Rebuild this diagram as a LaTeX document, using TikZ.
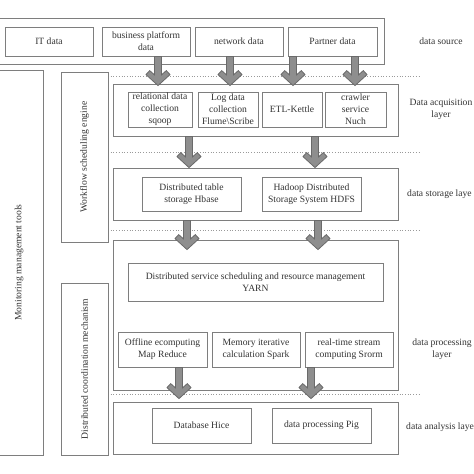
\documentclass[tikz,border=0pt]{standalone}
\usepackage{fontspec}
\setmainfont{Liberation Serif}
\usetikzlibrary{calc}
\definecolor{linegray}{HTML}{7E7E7E}
\definecolor{textgray}{HTML}{333333}
\definecolor{arrowfill}{HTML}{8E8E8E}
\definecolor{arrowdraw}{HTML}{6A6A6A}
\definecolor{dotgray}{HTML}{9A9A9A}
\tikzset{
  box/.style={draw=linegray, line width=0.8pt, inner sep=1pt, align=center,
    text=textgray, font=\fontsize{9.6}{12}\selectfont},
  lbl/.style={text=textgray, align=center, inner sep=0pt, font=\fontsize{9.6}{12}\selectfont},
  sepline/.style={draw=dotgray, dotted, line width=0.7pt},
  blockarrow/.style={fill=arrowfill, draw=arrowdraw, line width=0.8pt, line join=miter}
}
\newcommand\bigarrow[3]{%
  \path[blockarrow] let \p1=(#2), \p2=(#3) in
    (#1pt-3.5pt,\y1) -- (#1pt-3.5pt,\y2+10.7pt) -- (#1pt-8.3pt,\y2+15pt) --
    (#1pt-12pt,\y2+11pt) -- (#1pt,\y2) -- (#1pt+12pt,\y2+11pt) --
    (#1pt+8.3pt,\y2+15pt) -- (#1pt+3.5pt,\y2+10.7pt) -- (#1pt+3.5pt,\y1) -- cycle;}
\begin{document}
\begin{tikzpicture}[x=1pt,y=-1pt]
\useasboundingbox (0,0) rectangle (474,474);
\fill[white] (0,0) rectangle (474,474);

% separators
\draw[sepline] (108,76) -- (419,76);
\draw[sepline] (108,152) -- (419,152);
\draw[sepline] (108,230) -- (419,230);
\draw[sepline] (108,394) -- (419,394);

% data source
\node[box, minimum width=389, minimum height=46] (src) at (189.5,41) {};
\node[box, minimum width=88, minimum height=29] (it) at (49,41.5) {IT data};
\node[box, minimum width=88, minimum height=29] (bp) at (146,41.5) {business platform\\data};
\node[box, minimum width=88, minimum height=29] (nd) at (239,41.5) {network data};
\node[box, minimum width=89, minimum height=29] (pd) at (332.5,41.5) {Partner data};
\node[lbl] (lsrc) at (441,41) {data source};

% side boxes
\node[box, rotate=90, minimum width=385, minimum height=48] (mon) at (19,262.5) {Monitoring management tools};
\node[box, rotate=90, minimum width=170, minimum height=47] (wf) at (84.5,157) {Workflow scheduling engine};
\node[box, rotate=90, minimum width=172, minimum height=47] (dc) at (84.5,369) {Distributed coordination mechanism};

% acquisition
\node[box, minimum width=285, minimum height=52] (acq) at (255.5,110) {};
\node[box, minimum width=64, minimum height=35] (sq) at (160,109.5) {relational data\\collection\\sqoop};
\node[box, minimum width=60, minimum height=35] (lg) at (228,109.5) {Log data\\collection\\Flume\textbackslash Scribe};
\node[box, minimum width=60, minimum height=35] (etl) at (292,109.5) {ETL-Kettle};
\node[box, minimum width=61, minimum height=35] (cr) at (355.5,109.5) {crawler\\service\\Nuch};
\node[lbl] (lacq) at (441,109) {Data acquisition\\layer};

% storage
\node[box, minimum width=285, minimum height=52] (sto) at (255.5,194) {};
\node[box, minimum width=99, minimum height=34] (hb) at (191.5,194) {Distributed table\\storage Hbase};
\node[box, minimum width=99, minimum height=34] (hd) at (311.5,194) {Hadoop Distributed\\Storage System HDFS};
\node[lbl, anchor=west] (lsto) at (407,194) {data storage laye};

% processing
\node[box, minimum width=285, minimum height=150] (proc) at (255.5,315) {};
\node[box, minimum width=255, minimum height=38] (yarn) at (255.5,282) {Distributed service scheduling and resource management\\YARN};
\node[box, minimum width=89, minimum height=35] (mr) at (162.5,349.5) {Offline ecomputing\\Map Reduce};
\node[box, minimum width=88, minimum height=35] (sp) at (256,349.5) {Memory iterative\\calculation Spark};
\node[box, minimum width=88, minimum height=35] (st) at (349,349.5) {real-time stream\\computing Srorm};
\node[lbl] (lproc) at (442,349) {data processing\\layer};

% analysis
\node[box, minimum width=285, minimum height=52] (ana) at (255.5,428) {};
\node[box, minimum width=99, minimum height=35] (hi) at (201.5,425.5) {Database Hice};
\node[box, minimum width=99, minimum height=35] (pig) at (321.5,425.5) {data processing Pig};
\node[lbl, anchor=west] (lana) at (406,427) {data analysis laye};

% block arrows
\bigarrow{158}{bp.south}{$(acq.north)+(0,2)$}
\bigarrow{230}{nd.south}{$(acq.north)+(0,2)$}
\bigarrow{293}{pd.south}{$(acq.north)+(0,2)$}
\bigarrow{355}{pd.south}{$(acq.north)+(0,2)$}
\bigarrow{189}{acq.south}{sto.north}
\bigarrow{315}{acq.south}{sto.north}
\bigarrow{187}{sto.south}{$(proc.north)+(0,10)$}
\bigarrow{318}{sto.south}{$(proc.north)+(0,10)$}
\bigarrow{179}{mr.south}{$(ana.north)+(0,-3)$}
\bigarrow{311}{st.south}{$(ana.north)+(0,-3)$}
\end{tikzpicture}
\end{document}
